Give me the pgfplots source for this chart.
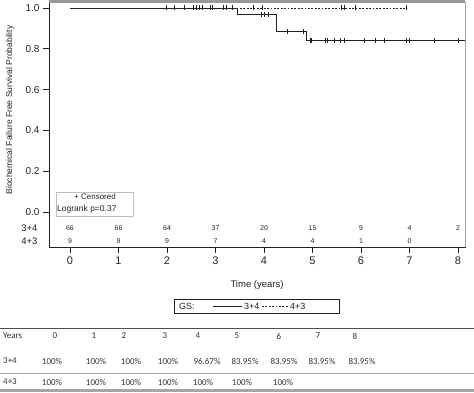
\documentclass[border=0pt]{standalone}
\usepackage{pgfplots}
\pgfplotsset{compat=1.18}
\usepackage{fontspec}
\setmainfont{Liberation Sans}
\newfontfamily\tabfont{Carlito}
\definecolor{ink}{HTML}{222222}
\definecolor{tabink}{HTML}{333333}
\tikzset{risk/.style={font=\fontsize{7}{8}\selectfont, text=ink}}
\begin{document}
\begin{tikzpicture}[x=1pt,y=1pt]
\useasboundingbox (0,0) rectangle (474,392);
\begin{axis}[
  at={(49pt,145pt)}, anchor=south west,
  scale only axis, width=416pt, height=245pt,
  xmin=-0.433, xmax=8.144, ymin=-0.1716, ymax=1.0294,
  xtick={0,...,8}, ytick={0,0.2,0.4,0.6,0.8,1.0},
  xtick pos=bottom, ytick pos=left,
  tick align=outside, major tick length=6pt,
  axis line style={ink, line width=0.9pt},
  tick style={ink, line width=0.9pt},
  /pgf/number format/assume math mode=true,
  yticklabel style={/pgf/number format/.cd, fixed, fixed zerofill, precision=1, /tikz/.cd, font=\fontsize{10}{11}\selectfont, text=ink},
  xticklabel style={font=\fontsize{11}{12}\selectfont, text=ink},
  clip=false,
]
% 3+4 (solid)
\addplot[const plot, ink, line width=0.8pt] coordinates {(0,1)(3.46,0.9667)(4.25,0.8857)(4.88,0.8395)(8.144,0.8395)};
% 4+3 (dashed)
\addplot[ink, line width=0.7pt, dash pattern=on 1.8pt off 1.6pt] coordinates {(0,1)(6.94,1)};
% censored marks
\addplot[only marks, mark=|, mark size=2.5pt, ink, mark options={line width=0.8pt}] coordinates {
(1.99,1)(2.16,1)(2.36,1)(2.54,1)(2.61,1)(2.67,1)(2.74,1)(2.89,1)(2.94,1)(3.16,1)(3.23,1)(3.35,1)
(3.78,1)(3.97,1)(5.60,1)(5.65,1)(5.88,1)(6.94,1)};
\addplot[only marks, mark=|, mark size=2.5pt, ink, mark options={line width=0.8pt}] coordinates {
(3.95,0.9667)(4.00,0.9667)(4.10,0.9667)(4.49,0.8857)(4.81,0.8857)
(4.95,0.8395)(4.98,0.8395)(5.26,0.8395)(5.31,0.8395)(5.46,0.8395)(5.57,0.8395)(5.65,0.8395)
(6.08,0.8395)(6.29,0.8395)(6.49,0.8395)(6.94,0.8395)(6.99,0.8395)(7.51,0.8395)(8.0,0.8395)};
% numbers at risk
\node[risk] at (axis cs:0,-0.078) {66};
\node[risk] at (axis cs:1,-0.078) {66};
\node[risk] at (axis cs:2,-0.078) {64};
\node[risk] at (axis cs:3,-0.078) {37};
\node[risk] at (axis cs:4,-0.078) {20};
\node[risk] at (axis cs:5,-0.078) {15};
\node[risk] at (axis cs:6,-0.078) {9};
\node[risk] at (axis cs:7,-0.078) {4};
\node[risk] at (axis cs:8,-0.078) {2};
\node[risk] at (axis cs:0,-0.142) {9};
\node[risk] at (axis cs:1,-0.142) {9};
\node[risk] at (axis cs:2,-0.142) {9};
\node[risk] at (axis cs:3,-0.142) {7};
\node[risk] at (axis cs:4,-0.142) {4};
\node[risk] at (axis cs:5,-0.142) {4};
\node[risk] at (axis cs:6,-0.142) {1};
\node[risk] at (axis cs:7,-0.142) {0};
\draw[gray!70, line width=0.8pt] (rel axis cs:1,0) -- (rel axis cs:1,1);
\end{axis}
% top band
\fill[gray!80] (49,389) rectangle (465,392);
% y label
\node[rotate=90, font=\fontsize{8.5}{10}\selectfont, text=ink] at (10,282) {Biochemical Failure Free Survival Probability};
% at-risk row labels
\node[anchor=east, font=\fontsize{9.5}{10}\selectfont, text=ink] at (41,164) {3+4};
\node[anchor=east, font=\fontsize{9.5}{10}\selectfont, text=ink] at (41,151) {4+3};
% inner legend
\draw[gray!50, line width=0.6pt] (56,200) rectangle (133,176);
\node[font=\fontsize{8}{9}\selectfont, text=ink] at (95,195) {+ Censored};
\node[anchor=west, font=\fontsize{8.5}{9}\selectfont, text=ink, inner sep=0pt] at (57,183) {Logrank p=0.37};
% x label
\node[font=\fontsize{9.5}{11}\selectfont, text=ink] at (257,107) {Time (years)};
% GS legend
\draw[ink, line width=0.6pt] (174,93) rectangle (339,79);
\node[anchor=west, font=\fontsize{9}{10}\selectfont, text=ink, inner sep=0pt] at (179,86) {GS:};
\draw[ink, line width=0.8pt] (213,86) -- (242,86);
\node[anchor=west, font=\fontsize{9}{10}\selectfont, text=ink, inner sep=0pt] at (244,86) {3+4};
\draw[ink, line width=0.7pt, dash pattern=on 1.8pt off 1.6pt] (262,86) -- (288,86);
\node[anchor=west, font=\fontsize{9}{10}\selectfont, text=ink, inner sep=0pt] at (290,86) {4+3};
% table
\draw[ink!80, line width=0.8pt] (0,64) -- (474,64);
\draw[gray!70, line width=0.6pt] (0,19) -- (474,19);
\fill[gray!70] (0,0) rectangle (474,3);
\begin{scope}[every node/.style={font=\tabfont\fontsize{9}{10}\selectfont, text=tabink, inner sep=0pt}]
\node[anchor=west] at (3,56) {Years};
\foreach \x/\v in {55/0,94/1,124/2,165/3,198/4,237/5,279/6,318/7,355/8}{\node at (\x,56) {\v};}
\node[anchor=west] at (3,31) {3+4};
\foreach \x/\v in {52/100\%,96/100\%,131/100\%,168/100\%,207/96.67\%,245/83.95\%,284/83.95\%,322/83.95\%,362/83.95\%}{\node at (\x,31) {\v};}
\node[anchor=west] at (3,10) {4+3};
\foreach \x/\v in {52/100\%,96/100\%,131/100\%,168/100\%,203/100\%,242/100\%,283/100\%}{\node at (\x,10) {\v};}
\end{scope}
\end{tikzpicture}
\end{document}
